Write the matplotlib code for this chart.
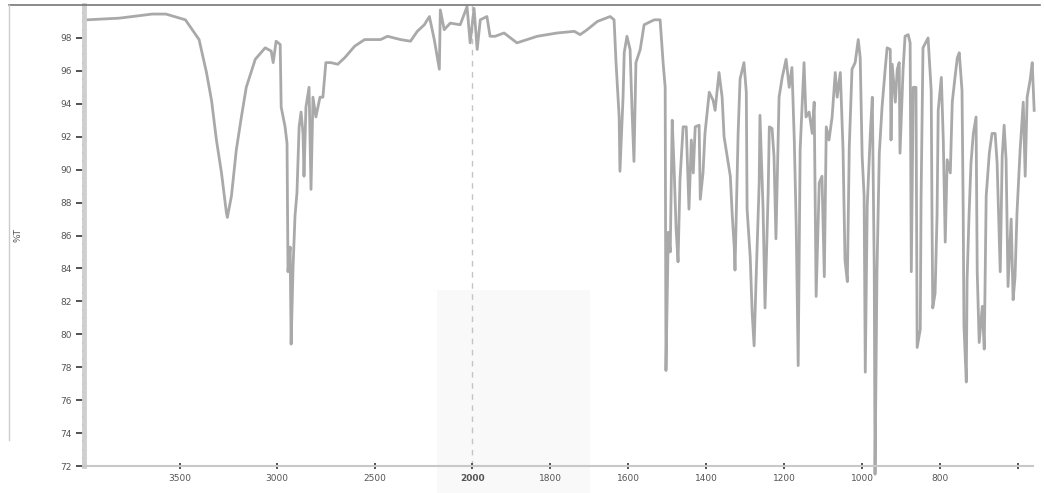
import matplotlib as mpl
mpl.use('Agg')
import matplotlib.pyplot as plt
import matplotlib.ticker as mticker
from matplotlib.lines import Line2D
from matplotlib.patches import Rectangle
import numpy as np

# IR spectrum: wavenumber (cm-1) and %T
wn = [3975, 3810, 3640, 3570, 3470, 3400, 3362, 3336, 3311, 3285, 3260, 3255,
      3234, 3209, 3183, 3158, 3112, 3061, 3030, 3020, 3005, 2984, 2979, 2959,
      2949, 2944, 2933, 2928, 2918, 2908, 2898, 2887, 2877, 2867, 2862, 2852,
      2836, 2826, 2816, 2801, 2780, 2765, 2750, 2724, 2689, 2653, 2602, 2551,
      2469, 2434, 2367, 2316, 2281, 2245, 2219, 2194, 2168, 2163, 2143, 2112,
      2061, 2026, 2010, 1995, 1987, 1979, 1962, 1954, 1941, 1918, 1885, 1859,
      1833, 1782, 1738, 1723, 1705, 1679, 1646, 1636, 1631, 1623, 1621, 1613,
      1610, 1603, 1595, 1590, 1585, 1580, 1569, 1559, 1533, 1518, 1510, 1505,
      1503, 1497, 1492, 1487, 1482, 1477, 1472, 1467, 1459, 1451, 1444, 1438,
      1433, 1428, 1418, 1415, 1408, 1403, 1392, 1382, 1377, 1367, 1359, 1354,
      1346, 1338, 1333, 1328, 1326, 1318, 1313, 1303, 1297, 1295, 1287, 1282,
      1277, 1272, 1264, 1262, 1254, 1249, 1241, 1238, 1231, 1226, 1221, 1213,
      1205, 1195, 1187, 1180, 1174, 1169, 1164, 1159, 1149, 1144, 1136, 1128,
      1123, 1118, 1110, 1103, 1097, 1092, 1085, 1077, 1069, 1064, 1056, 1049,
      1044, 1038, 1033, 1026, 1018, 1010, 1005, 1000, 995, 992, 987, 979,
      974, 969, 967, 962, 956, 949, 941, 936, 928, 926, 923, 915,
      910, 905, 903, 895, 890, 882, 877, 874, 869, 862, 859, 851,
      849, 844, 831, 823, 821, 819, 813, 808, 805, 797, 792, 787,
      782, 774, 769, 762, 756, 751, 744, 741, 739, 733, 731, 726,
      721, 715, 708, 705, 700, 692, 687, 682, 674, 667, 659, 654,
      646, 641, 636, 631, 626, 618, 613, 608, 603, 595, 587, 582,
      577, 569, 564, 559]
pct_t = [99.1, 99.2, 99.45, 99.45, 99.1, 97.9, 95.9, 94.2, 91.8, 89.8, 87.4, 87.1,
         88.4, 91.2, 93.2, 95.0, 96.7, 97.4, 97.2, 96.5, 97.8, 97.6, 93.8, 92.6,
         91.6, 83.8, 85.3, 79.4, 84.1, 87.2, 88.6, 92.6, 93.5, 92.2, 89.6, 93.8,
         95.0, 88.8, 94.4, 93.2, 94.4, 94.4, 96.5, 96.5, 96.4, 96.8, 97.5, 97.9,
         97.9, 98.1, 97.9, 97.8, 98.4, 98.8, 99.3, 97.9, 96.1, 99.7, 98.5, 98.9,
         98.8, 99.9, 97.7, 99.8, 97.3, 99.1, 99.3, 98.1, 98.1, 98.3, 97.7, 97.9,
         98.1, 98.3, 98.4, 98.2, 98.5, 99.0, 99.3, 99.1, 96.5, 93.2, 89.9, 94.4,
         97.1, 98.1, 97.3, 93.6, 90.5, 96.5, 97.3, 98.8, 99.1, 99.1, 96.4, 95.0,
         77.8, 86.2, 85.0, 93.0, 90.0, 86.4, 84.4, 89.4, 92.6, 92.6, 87.6, 91.8,
         89.8, 92.6, 92.7, 88.2, 89.8, 92.2, 94.7, 94.2, 93.6, 95.9, 94.4, 92.0,
         90.8, 89.6, 87.2, 85.3, 83.9, 92.2, 95.5, 96.5, 94.7, 87.6, 84.7, 81.3,
         79.3, 83.3, 89.2, 93.3, 87.6, 81.6, 88.6, 92.6, 92.5, 90.8, 85.8, 94.4,
         95.6, 96.7, 95.0, 96.2, 91.8, 86.5, 78.1, 91.2, 96.5, 93.2, 93.5, 92.2,
         94.1, 82.3, 89.2, 89.6, 83.5, 92.6, 91.8, 93.2, 95.9, 94.4, 95.9, 91.2,
         84.5, 83.2, 91.4, 96.1, 96.5, 97.9, 96.8, 90.8, 88.4, 77.7, 87.8, 92.2,
         94.4, 83.9, 71.5, 83.8, 91.0, 93.8, 96.1, 97.4, 97.3, 91.8, 96.4, 94.1,
         96.1, 96.5, 91.0, 96.1, 98.1, 98.2, 97.7, 83.8, 95.0, 95.0, 79.2, 80.3,
         88.2, 97.4, 98.0, 94.8, 87.4, 81.6, 82.5, 87.2, 93.6, 95.6, 91.8, 85.6,
         90.6, 89.8, 94.1, 95.6, 96.8, 97.1, 94.8, 87.6, 80.5, 77.1, 83.3, 87.2,
         90.4, 92.2, 93.2, 83.8, 79.5, 81.7, 79.1, 88.4, 91.0, 92.2, 92.2, 90.4,
         83.8, 90.8, 92.7, 90.6, 82.9, 87.0, 82.1, 83.5, 87.4, 91.2, 94.1, 89.6,
         94.4, 95.5, 96.5, 93.6]

x_major = [3500, 3000, 2500, 2000, 1800, 1600, 1400, 1200, 1000, 800, 600]
x_labels = ['3500', '3000', '2500', '2000', '1800', '1600', '1400', '1200', '1000', '800', '']
y_major = list(range(72, 99, 2))


def fwd(w):
	# 4000-2000 drawn at half the scale of 2000-600
	w = np.asarray(w, dtype=float)
	return np.where(w > 2000, 2000 + (w - 2000) / 2.0, w)

def inv(u):
	u = np.asarray(u, dtype=float)
	return np.where(u > 2000, 2000 + (u - 2000) * 2.0, u)


tcol = '#555555'
kcol = '#444444'

fig = plt.figure(figsize=(10.44, 4.93), dpi=100)
fig.patch.set_facecolor('white')

# faint scan shading and outer frame
fig.patches.append(Rectangle((437/1044., 0.0), 153/1044., 203/493., transform=fig.transFigure,
                             facecolor='#f9f9f9', edgecolor='none', zorder=-5))
fig.lines.append(Line2D([9/1044., 1040/1044.], [1-5/493., 1-5/493.], transform=fig.transFigure,
                        color='#777777', lw=1.2))
fig.lines.append(Line2D([9/1044., 9/1044.], [1-5/493., 1-440/493.], transform=fig.transFigure,
                        color='#cccccc', lw=1.0))

ax = fig.add_axes([84/1044., 1-466/493., 949/1044., 461/493.])
ax.patch.set_alpha(0)
ax.set_xscale('function', functions=(fwd, inv))
ax.set_xlim(3990, 562)
ax.set_ylim(72, 100)

ax.axvline(2000, color='#c4c4c4', lw=1.0, ls=(0, (4, 4)), zorder=1)
ax.plot(wn, pct_t, color='#a9a9a9', lw=2.0, zorder=2, clip_on=False)

for s in ['top', 'right']:
	ax.spines[s].set_visible(False)
ax.spines['left'].set_color('#cfcfcf')
ax.spines['left'].set_linewidth(3.5)
ax.spines['bottom'].set_color('#c8c8c8')
ax.spines['bottom'].set_linewidth(1.5)

ax.set_yticks(y_major)
ax.set_yticklabels([str(v) for v in y_major])
ax.yaxis.set_minor_locator(mticker.MultipleLocator(0.5))
x_minor = list(range(3900, 2000, -100)) + list(range(1950, 560, -50))
x_minor = [v for v in x_minor if v not in x_major]
ax.set_xticks(x_major)
ax.set_xticklabels(x_labels)
ax.set_xticks(x_minor, minor=True)

ax.tick_params(axis='y', which='major', direction='out', length=6, width=1.3, color=kcol,
               labelsize=6.5, labelcolor=tcol, pad=3)
ax.tick_params(axis='y', which='minor', direction='inout', length=2.5, width=1.3, color=kcol)
ax.tick_params(axis='x', which='major', direction='inout', length=5, width=1.3, color=kcol,
               labelsize=6.5, labelcolor=tcol, pad=3)
ax.tick_params(axis='x', which='minor', direction='inout', length=2, width=1.2, color=kcol)
for lab in ax.get_xticklabels():
	if lab.get_text() == '2000':
		lab.set_fontweight('bold')

fig.text(18/1044., 1-235/493., '%T', rotation=90, fontsize=6.5, color=tcol, ha='center', va='center')

plt.savefig('out.png', dpi=100)
